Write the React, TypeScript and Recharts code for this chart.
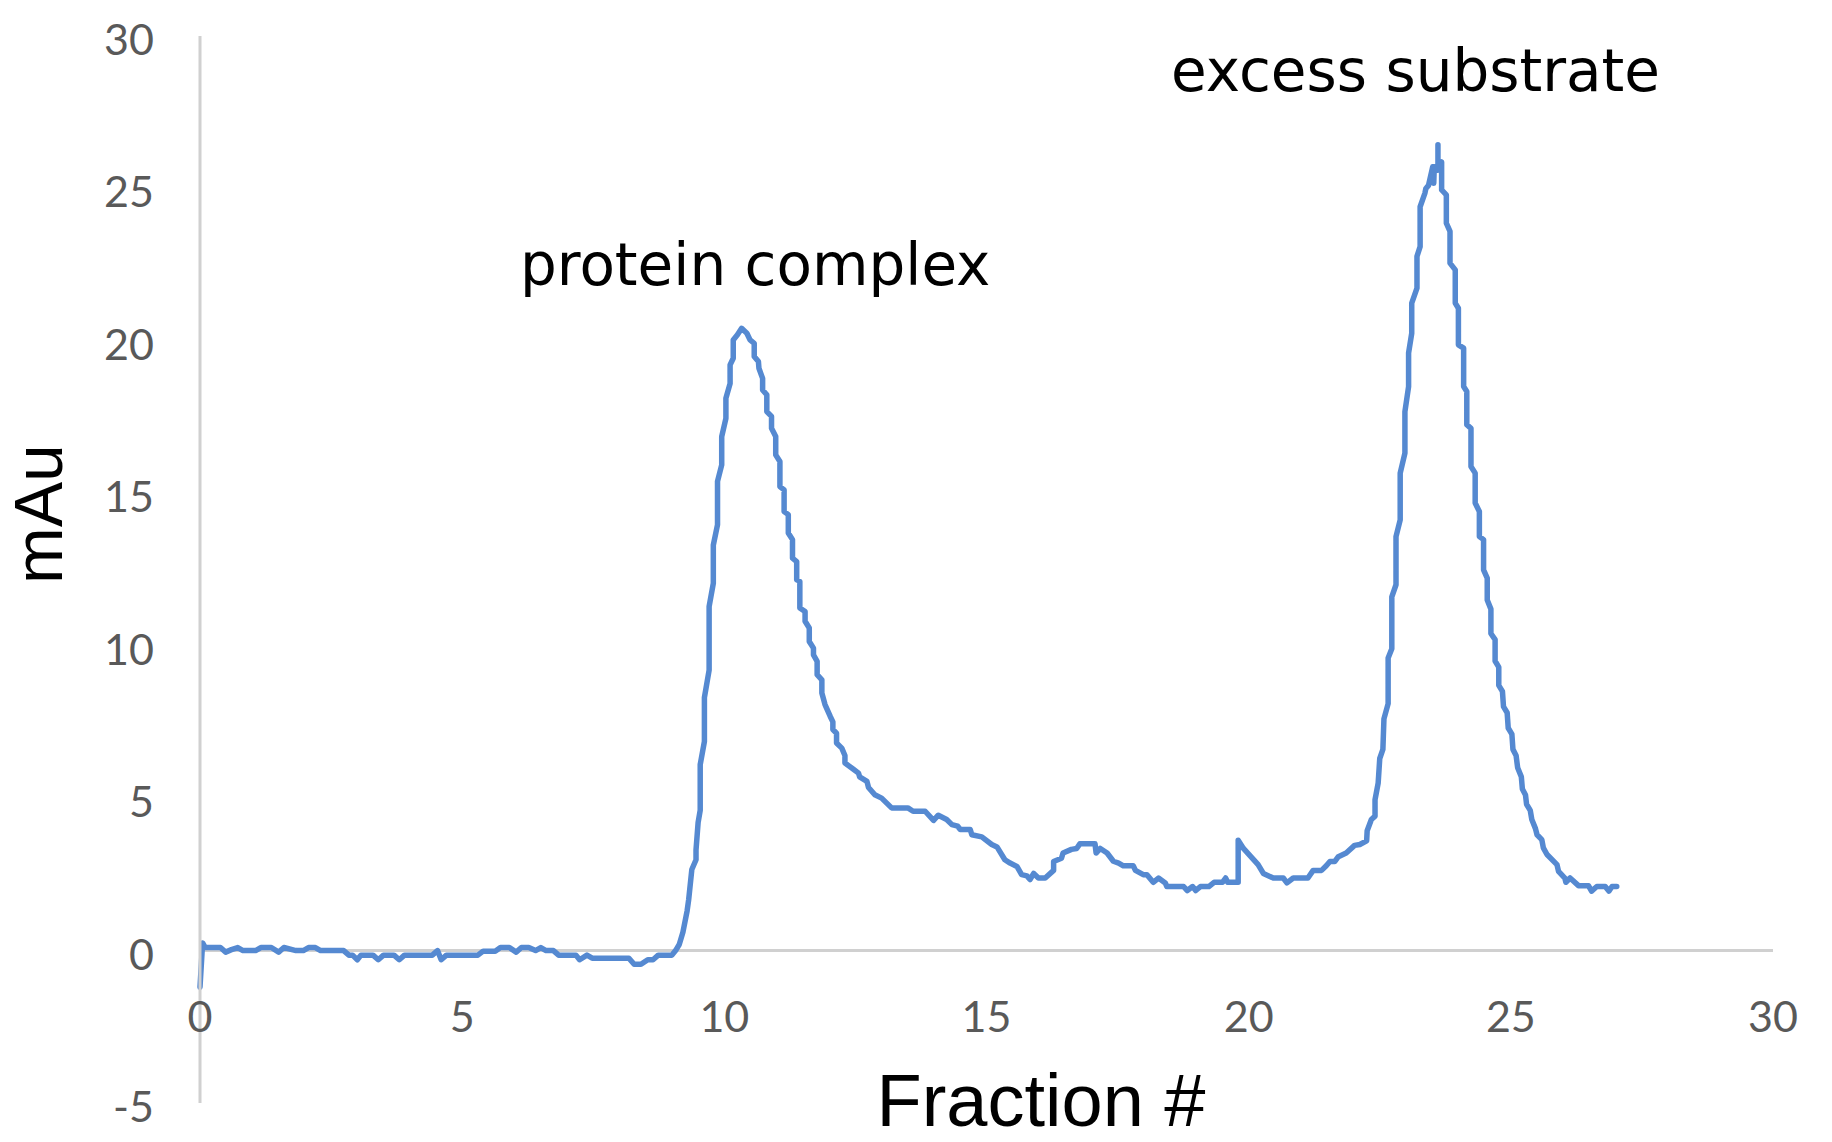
import React from 'react';
import { LineChart, Line, XAxis, YAxis, ReferenceLine } from 'recharts';

// Fraction # vs absorbance (mAu), split into segments
const baselineSegment: [number, number][] = [
  [0, -1.2], [0.05, 0.25], [0.1, 0.1], [0.39, 0.1], [0.49, -0.05], [0.6, 0.03], [0.72, 0.1], [0.82, 0.0],
  [1.06, 0.0], [1.16, 0.1], [1.36, 0.1], [1.5, -0.05], [1.6, 0.1], [1.83, 0.0], [1.97, 0.0], [2.07, 0.1],
  [2.2, 0.1], [2.3, 0.0], [2.74, 0.0], [2.84, -0.15], [2.91, -0.15], [3.0, -0.3], [3.07, -0.15], [3.3, -0.15],
  [3.4, -0.3], [3.5, -0.15], [3.7, -0.15], [3.8, -0.3], [3.9, -0.15], [4.43, -0.15], [4.53, 0.0], [4.6, -0.3],
  [4.7, -0.15], [5.3, -0.15], [5.4, -0.02], [5.63, -0.02], [5.73, 0.1], [5.9, 0.1], [6.03, -0.05], [6.13, 0.1],
  [6.27, 0.1], [6.4, 0.0], [6.5, 0.1], [6.6, 0.0], [6.74, 0.0], [6.84, -0.15], [7.17, -0.15], [7.24, -0.3],
  [7.38, -0.15], [7.48, -0.25], [8.18, -0.25], [8.28, -0.45], [8.41, -0.45], [8.54, -0.3], [8.64, -0.3],
  [8.74, -0.15], [9.0, -0.15], [9.07, 0.0], [9.14, 0.2], [9.21, 0.6], [9.29, 1.3], [9.32, 1.67], [9.38, 2.66],
  [9.46, 2.98],
];

const proteinComplexPeak: [number, number][] = [
  [9.46, 3.3], [9.5, 4.2], [9.54, 4.6], [9.54, 6.1], [9.62, 6.86], [9.62, 8.3], [9.71, 9.2], [9.71, 11.29],
  [9.79, 12.05], [9.79, 13.3], [9.87, 13.97], [9.87, 15.39], [9.95, 15.93], [9.95, 16.86], [10.03, 17.46],
  [10.03, 18.12], [10.11, 18.6], [10.11, 19.21], [10.17, 19.43], [10.17, 20.03], [10.25, 20.2], [10.33, 20.41],
  [10.43, 20.25], [10.49, 20.03], [10.57, 19.92], [10.57, 19.49], [10.65, 19.32], [10.66, 19.1], [10.73, 18.77],
  [10.73, 18.39], [10.81, 18.23], [10.81, 17.68], [10.9, 17.52], [10.9, 17.13], [10.98, 16.86], [10.98, 16.26],
  [11.06, 16.04], [11.06, 15.22], [11.14, 15.11], [11.14, 14.4], [11.22, 14.3], [11.22, 13.7], [11.3, 13.48],
  [11.3, 12.87], [11.38, 12.76], [11.38, 12.16], [11.44, 12.11], [11.44, 11.24], [11.54, 11.12], [11.54, 10.8],
  [11.62, 10.58], [11.62, 10.14], [11.7, 9.92], [11.7, 9.7], [11.77, 9.49], [11.77, 9.05], [11.86, 8.88],
  [11.86, 8.45], [11.92, 8.07], [12.02, 7.68], [12.07, 7.5], [12.07, 7.25], [12.14, 7.13], [12.14, 6.81],
  [12.24, 6.64], [12.3, 6.4], [12.3, 6.15], [12.43, 5.99], [12.56, 5.82], [12.58, 5.7], [12.72, 5.55],
  [12.75, 5.35], [12.87, 5.11], [13.0, 5.0],
];

const valleySegment: [number, number][] = [
  [13.19, 4.68], [13.5, 4.68], [13.6, 4.57], [13.83, 4.57], [13.99, 4.27], [14.08, 4.44], [14.24, 4.3],
  [14.34, 4.13], [14.45, 4.08], [14.5, 3.97], [14.69, 3.97], [14.72, 3.8], [14.91, 3.73], [15.1, 3.48],
  [15.2, 3.4], [15.35, 2.98], [15.45, 2.87], [15.58, 2.76], [15.67, 2.49], [15.77, 2.45], [15.83, 2.33],
  [15.9, 2.53], [15.99, 2.38], [16.12, 2.38], [16.28, 2.63], [16.28, 2.92], [16.43, 3.03], [16.46, 3.2],
  [16.62, 3.32], [16.72, 3.35], [16.78, 3.5], [17.07, 3.5], [17.09, 3.2], [17.17, 3.35], [17.3, 3.2],
  [17.42, 2.93], [17.52, 2.87], [17.61, 2.78], [17.8, 2.78], [17.84, 2.63], [17.99, 2.49], [18.06, 2.49],
  [18.18, 2.24], [18.28, 2.38], [18.41, 2.22], [18.44, 2.1], [18.76, 2.1], [18.83, 1.97], [18.93, 2.1],
  [18.99, 1.97], [19.08, 2.1], [19.24, 2.1], [19.34, 2.24], [19.5, 2.24], [19.56, 2.38], [19.6, 2.24],
  [19.8, 2.24], [19.8, 3.62], [19.9, 3.35], [20.18, 2.82], [20.28, 2.53], [20.47, 2.38], [20.66, 2.38],
  [20.73, 2.22], [20.85, 2.38], [21.13, 2.38], [21.23, 2.63], [21.39, 2.63], [21.48, 2.78], [21.55, 2.92],
  [21.64, 2.92], [21.71, 3.08], [21.86, 3.2], [22.02, 3.45], [22.12, 3.48], [22.25, 3.6], [22.26, 3.93],
  [22.34, 4.3], [22.41, 4.41],
];

const excessSubstratePeak: [number, number][] = [
  [22.41, 4.95], [22.47, 5.5], [22.5, 6.3], [22.56, 6.6], [22.58, 7.6], [22.66, 8.1], [22.66, 9.6],
  [22.73, 9.9], [22.73, 11.6], [22.81, 12.0], [22.81, 13.58], [22.89, 14.13], [22.89, 15.66], [22.98, 16.32],
  [22.98, 17.68], [23.05, 18.5], [23.05, 19.6], [23.11, 20.25], [23.11, 21.24], [23.21, 21.73], [23.21, 22.77],
  [23.27, 23.09], [23.27, 24.4], [23.36, 24.84], [23.38, 25.0], [23.43, 25.1], [23.51, 25.71], [23.53, 25.17],
  [23.54, 25.71], [23.61, 25.65], [23.61, 26.43], [23.61, 25.6], [23.68, 25.87], [23.68, 24.95], [23.77, 24.79],
  [23.77, 23.86], [23.84, 23.59], [23.84, 22.55], [23.94, 22.33], [23.94, 21.24], [24.0, 21.07], [24.0, 19.87],
  [24.1, 19.76], [24.1, 18.5], [24.16, 18.34], [24.16, 17.25], [24.24, 17.13], [24.24, 15.88], [24.32, 15.66],
  [24.32, 14.68], [24.4, 14.4], [24.4, 13.58], [24.48, 13.48], [24.48, 12.49], [24.55, 12.22], [24.55, 11.5],
  [24.62, 11.2], [24.62, 10.4], [24.7, 10.2], [24.7, 9.5], [24.77, 9.3], [24.77, 8.7], [24.84, 8.5],
  [24.86, 8.0], [24.93, 7.8], [24.95, 7.3], [25.02, 7.1], [25.04, 6.6], [25.1, 6.4], [25.13, 6.0],
  [25.2, 5.7], [25.22, 5.3], [25.28, 5.1], [25.3, 4.8], [25.37, 4.6], [25.4, 4.3], [25.47, 4.0],
  [25.5, 3.8], [25.59, 3.64], [25.62, 3.37], [25.69, 3.15], [25.88, 2.82], [25.91, 2.6], [26.03, 2.38],
  [26.05, 2.24], [26.13, 2.38], [26.29, 2.13], [26.48, 2.13], [26.54, 1.95], [26.64, 2.1], [26.8, 2.1],
  [26.87, 1.95], [26.93, 2.1], [27.02, 2.1],
];

const xTicks = [0, 5, 10, 15, 20, 25, 30];
const yTicks = [-5, 0, 5, 10, 15, 20, 25, 30];
const xAxisTitle = 'Fraction #';
const yAxisTitle = 'mAu';
const peakLabels = ['protein complex', 'excess substrate'];

const data = [...baselineSegment, ...proteinComplexPeak, ...valleySegment, ...excessSubstratePeak].map(
  ([x, y]) => ({ x, y })
);

const TICK_FONT = 'Lato, "Open Sans", sans-serif';

const XTick = (props: any) => {
  const { x, y, payload } = props;
  return (
    <text x={x} y={y} dy={-71} textAnchor="middle" fill="#595959" fontSize={43} fontFamily={TICK_FONT}>
      {payload.value}
    </text>
  );
};

const YTick = (props: any) => {
  const { x, y, payload } = props;
  return (
    <text x={x} y={y} dy={19} textAnchor="end" fill="#595959" fontSize={43} fontFamily={TICK_FONT}>
      {payload.value}
    </text>
  );
};

export default function App() {
  return (
    <div style={{ position: 'absolute', left: 0, top: 0, width: 1832, height: 1142, background: '#fff' }}>
      <LineChart
        width={1832}
        height={1142}
        data={data}
        margin={{ top: 36, right: 59, bottom: 0, left: 0 }}
      >
        <XAxis
          dataKey="x"
          type="number"
          domain={[0, 30]}
          ticks={xTicks}
          interval={0}
          axisLine={false}
          tickLine={false}
          tickSize={0}
          tickMargin={0}
          height={39}
          tick={<XTick />}
        />
        <YAxis
          type="number"
          domain={[-5, 30]}
          ticks={yTicks}
          interval={0}
          width={200}
          axisLine={{ stroke: '#d0d0d0', strokeWidth: 3 }}
          tickLine={false}
          tickSize={0}
          tickMargin={46}
          tick={<YTick />}
        />
        <ReferenceLine y={0} stroke="#d0d0d0" strokeWidth={3} />
        <Line
          dataKey="y"
          type="linear"
          stroke="#5589d1"
          strokeWidth={5.5}
          strokeLinejoin="round"
          strokeLinecap="round"
          dot={false}
          activeDot={false}
          isAnimationActive={false}
        />
      </LineChart>
      <svg
        width={1832}
        height={1142}
        style={{ position: 'absolute', left: 0, top: 0, pointerEvents: 'none' }}
      >
        <text x={1041} y={1126} textAnchor="middle" fontSize={74} fontFamily='"Liberation Sans", Arial, sans-serif' fill="#000">
          {xAxisTitle}
        </text>
        <text
          x={0}
          y={0}
          transform="translate(62,514) rotate(-90)"
          textAnchor="middle"
          fontSize={68}
          fontFamily='"Liberation Sans", Arial, sans-serif'
          fill="#000"
        >
          {yAxisTitle}
        </text>
        <text x={520} y={285} fontSize={58} fontFamily='"DejaVu Sans", sans-serif' fill="#000">
          {peakLabels[0]}
        </text>
        <text x={1171} y={91} fontSize={58} fontFamily='"DejaVu Sans", sans-serif' fill="#000">
          {peakLabels[1]}
        </text>
      </svg>
    </div>
  );
}
